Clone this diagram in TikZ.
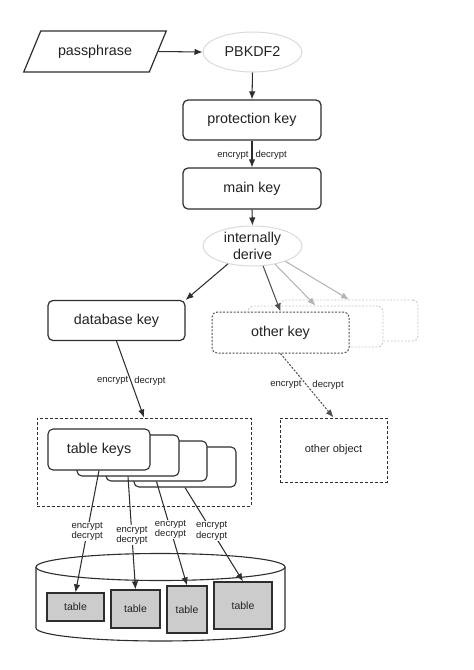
\documentclass[tikz,border=0pt]{standalone}
\usepackage{fontspec}
\setmainfont{Liberation Sans}
\usetikzlibrary{shapes.geometric,arrows.meta}
\definecolor{ink}{HTML}{222222}
\definecolor{edge}{HTML}{2E2E2E}
\definecolor{midgray}{HTML}{505050}
\definecolor{ghost}{HTML}{C8C8C8}
\definecolor{ghostarrow}{HTML}{B4B4B4}
\definecolor{ellgray}{HTML}{DADADA}
\definecolor{tablefill}{HTML}{CCCCCC}
\begin{document}
\begin{tikzpicture}[x=1pt,y=-1pt,
  big/.style={font=\fontsize{14.3}{16.5}\selectfont, text=ink},
  keybox/.style={big, draw=edge, line width=1.2pt, rounded corners=5pt, fill=white, inner sep=0pt},
  ellnode/.style={big, ellipse, draw=ellgray, line width=1pt, inner sep=0pt, align=center},
  ghostbox/.style={draw=ghost, dash pattern=on 2pt off 1.5pt, line width=0.9pt, rounded corners=5pt, fill=white, inner sep=0pt},
  okbox/.style={big, draw=midgray, dash pattern=on 2pt off 1.5pt, line width=1pt, rounded corners=5pt, fill=white, inner sep=0pt},
  dashbox/.style={draw=edge, dash pattern=on 3pt off 2pt, line width=1pt, inner sep=0pt, text=ink},
  tkbox/.style={big, draw=edge, line width=1.1pt, rounded corners=5pt, fill=white, inner sep=0pt},
  tbl/.style={draw=edge, line width=1.2pt, fill=tablefill, font=\fontsize{10.5}{12}\selectfont, text=ink, inner sep=0pt},
  conn/.style={draw=edge, line width=1.05pt, -{Latex[length=8pt,width=6.5pt]}},
  lab/.style={font=\fontsize{9.5}{10.5}\selectfont, text=ink, inner sep=1pt},
  lab2/.style={lab, fill=white, align=center, inner sep=0.5pt}
]
\useasboundingbox (0,0) rectangle (474,670);

% top part
\node[big, trapezium, trapezium left angle=49, trapezium right angle=131, trapezium stretches=true,
      draw=edge, line width=1.2pt, minimum width=144pt, minimum height=41pt, inner sep=0pt] (pass) at (95,51.5) {passphrase};
\node[ellnode, minimum width=99pt, minimum height=40pt] (pbk) at (252.5,52) {PBKDF2};
\node[keybox, minimum width=138pt, minimum height=40pt] (pk) at (252,120) {protection key};
\node[keybox, minimum width=138pt, minimum height=41pt] (mk) at (252,188.5) {main key};
\node[ellnode, minimum width=99pt, minimum height=40pt] (ider) at (252.5,246) {internally\\derive};

\draw[conn] (pass.east) -- (pbk.west);
\draw[conn] (pbk.south) -- (pk.north);
\draw[conn] (pk.south) -- (mk.north)
  node[lab, pos=0.54, left=2pt] (l1) {encrypt}
  node[lab, pos=0.54, right=2pt] (l2) {decrypt};
\draw[conn] (mk.south) -- (ider.north);

% derived keys
\node[keybox, minimum width=137pt, minimum height=40pt] (db) at (116.5,320.5) {database key};
\node[ghostbox, minimum width=138pt, minimum height=41pt] (g3) at (349,320.5) {};
\node[ghostbox, minimum width=135pt, minimum height=41pt] (g2) at (315.5,326.5) {};
\node[okbox, minimum width=137pt, minimum height=41pt] (ok) at (280.5,332.5) {other key};

\draw[conn] (ider.216) -- (db.north east);
\draw[conn, draw=midgray] (ider.-62) -- (ok.north);
\draw[conn, draw=ghostarrow] (ider.-39) -- (g2.north);
\draw[conn, draw=ghostarrow] (ider.-25) -- (g3.north);

% container and other object
\node[dashbox, minimum width=214pt, minimum height=88pt] (cont) at (144,462) {};
\node[dashbox, font=\fontsize{11}{13}\selectfont, minimum width=107pt, minimum height=64pt] (oo) at (333.5,450) {other object};

\draw[conn] (db.south) -- (cont.north)
  node[lab, pos=0.52, left=1pt] (l3) {encrypt}
  node[lab, pos=0.52, right=2pt] (l4) {decrypt};
\draw[conn, draw=midgray, dash pattern=on 2pt off 1.5pt] (ok.south) -- (oo.north)
  node[lab, pos=0.49, left=3.5pt] (l5) {encrypt}
  node[lab, pos=0.49, right=4.5pt] (l6) {decrypt};

% table keys stack
\node[tkbox, minimum width=102pt, minimum height=40pt] (tk4) at (185,467) {};
\node[tkbox, minimum width=101pt, minimum height=40pt] (tk3) at (156.5,461) {};
\node[tkbox, minimum width=102pt, minimum height=41pt] (tk2) at (128,455.5) {};
\node[tkbox, minimum width=102pt, minimum height=41pt] (tk1) at (99,449.5) {table keys};

% database cylinder
\draw[draw=edge, line width=1.1pt, fill=white]
  (36,567) -- (36,628) arc[start angle=180, end angle=360, x radius=124.5pt, y radius=13pt] -- (285,567);
\draw[draw=edge, line width=1.1pt, fill=white] (160.5,567) ellipse[x radius=124.5pt, y radius=13.5pt];

% tables
\node[tbl, minimum width=57pt, minimum height=28pt] (t1) at (75.5,607) {table};
\node[tbl, minimum width=49pt, minimum height=38pt] (t2) at (135.5,609) {table};
\node[tbl, minimum width=40pt, minimum height=47pt] (t3) at (187,609.5) {table};
\node[tbl, minimum width=58pt, minimum height=47pt] (t4) at (243,605.5) {table};

\draw[conn] (tk1.south) -- node[lab2, pos=0.5] (e1) {encrypt\\decrypt} (t1.north);
\draw[conn] (tk2.south) -- node[lab2, pos=0.52] (e2) {encrypt\\decrypt} (t2.north);
\draw[conn] (tk3.south) -- node[lab2, pos=0.46] (e3) {encrypt\\decrypt} (t3.north);
\draw[conn] (tk4.south) -- node[lab2, pos=0.46] (e4) {encrypt\\decrypt} (t4.north);
\end{tikzpicture}
\end{document}
